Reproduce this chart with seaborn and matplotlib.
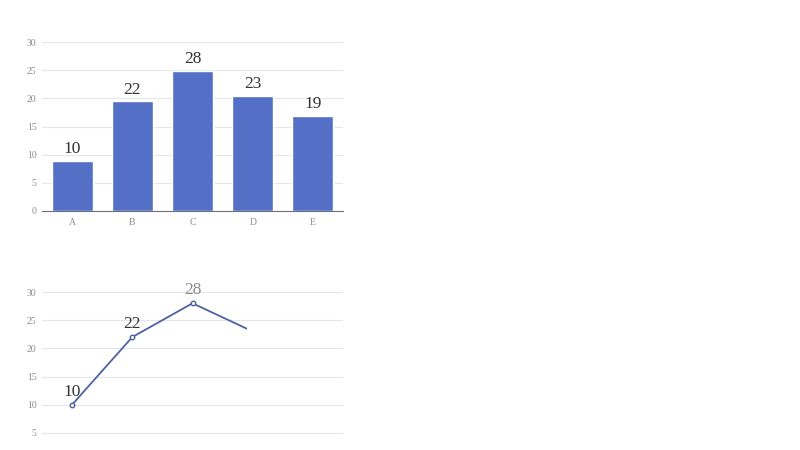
import numpy as np
import matplotlib
matplotlib.use('Agg')
import matplotlib.pyplot as plt
import seaborn as sns
from matplotlib.patches import Rectangle

# --- data ---
categories = ['A', 'B', 'C', 'D', 'E']
bar_labels = [10, 22, 28, 23, 19]
bar_heights = [8.9, 19.5, 24.9, 20.5, 16.9]      # bars as drawn (mid-animation)
line_values = [10, 22, 28, 23, 19]
line_shown_to = 2.9                               # line is revealed up to here
line_label_colors = ['#333333', '#333333', '#8a8a8a']

BAR_COLOR = '#5470c6'
LINE_COLOR = '#4d62a6'
GRID_COLOR = '#e6e6e6'
TICK_COLOR = '#8c8c8c'
AXIS_COLOR = '#6e7079'

sns.set_theme(style='white')
plt.rcParams['font.family'] = ['Liberation Serif', 'DejaVu Serif']

fig = plt.figure(figsize=(8, 4.5), dpi=100)
ax_bar = fig.add_axes([42 / 800, 1 - 211 / 450, 301 / 800, 169 / 450])
ax_line = fig.add_axes([42 / 800, 1 - 461 / 450, 301 / 800, 169 / 450])


def style_axes(ax, show_cats=True, y_start=0):
    ax.set_ylim(0, 30)
    ax.set_xlim(-0.5, 4.5)
    ax.set_yticks(range(0, 31, 5))
    ax.yaxis.grid(True, color=GRID_COLOR, linewidth=0.8)
    ax.set_yticklabels([str(v) if v >= y_start else '' for v in range(0, 31, 5)])
    ax.set_axisbelow(True)
    for side in ('top', 'right', 'left'):
        ax.spines[side].set_visible(False)
    ax.spines['bottom'].set_color(AXIS_COLOR)
    ax.spines['bottom'].set_linewidth(0.8)
    ax.tick_params(axis='y', length=0, labelsize=7, labelcolor=TICK_COLOR, pad=4)
    ax.set_xticks(np.arange(-0.5, 5, 1))
    ax.set_xticklabels([])
    ax.set_xticks(range(5), minor=True)
    ax.set_xticklabels(categories if show_cats else [], minor=True)
    ax.tick_params(axis='x', which='major', length=4, width=0.8, color=AXIS_COLOR, direction='out')
    ax.tick_params(axis='x', which='minor', length=0, labelsize=7, labelcolor=TICK_COLOR, pad=5)
    ax.set_xlabel('')
    ax.set_ylabel('')


# =============================================================================
# BAR CHART
# =============================================================================
sns.barplot(x=list(range(5)), y=bar_heights, color=BAR_COLOR, width=0.68,
            saturation=1, native_scale=True, ax=ax_bar)
for i, (h, lab) in enumerate(zip(bar_heights, bar_labels)):
    ax_bar.annotate(str(lab), (i, h), xytext=(0, 2.5), textcoords='offset points',
                    ha='center', va='bottom', fontsize=12.5, color='#333333')
style_axes(ax_bar)

# =============================================================================
# LINE CHART (x-axis lies below the figure edge, as in the reference)
# =============================================================================
sns.lineplot(x=list(range(5)), y=line_values, color=LINE_COLOR, linewidth=1.3,
             marker='o', markersize=3.2, markerfacecolor='white',
             markeredgecolor=LINE_COLOR, markeredgewidth=1.0, ax=ax_line)
clip = Rectangle((-0.5, 0), line_shown_to + 0.5, 30, transform=ax_line.transData)
for ln in ax_line.lines:
    ln.set_clip_path(clip)
for i, col in enumerate(line_label_colors):
    ax_line.annotate(str(line_values[i]), (i, line_values[i]), xytext=(0, 3.5),
                     textcoords='offset points', ha='center', va='bottom',
                     fontsize=12.5, color=col)
style_axes(ax_line, show_cats=False, y_start=5)

fig.savefig('out.png', dpi=100)
